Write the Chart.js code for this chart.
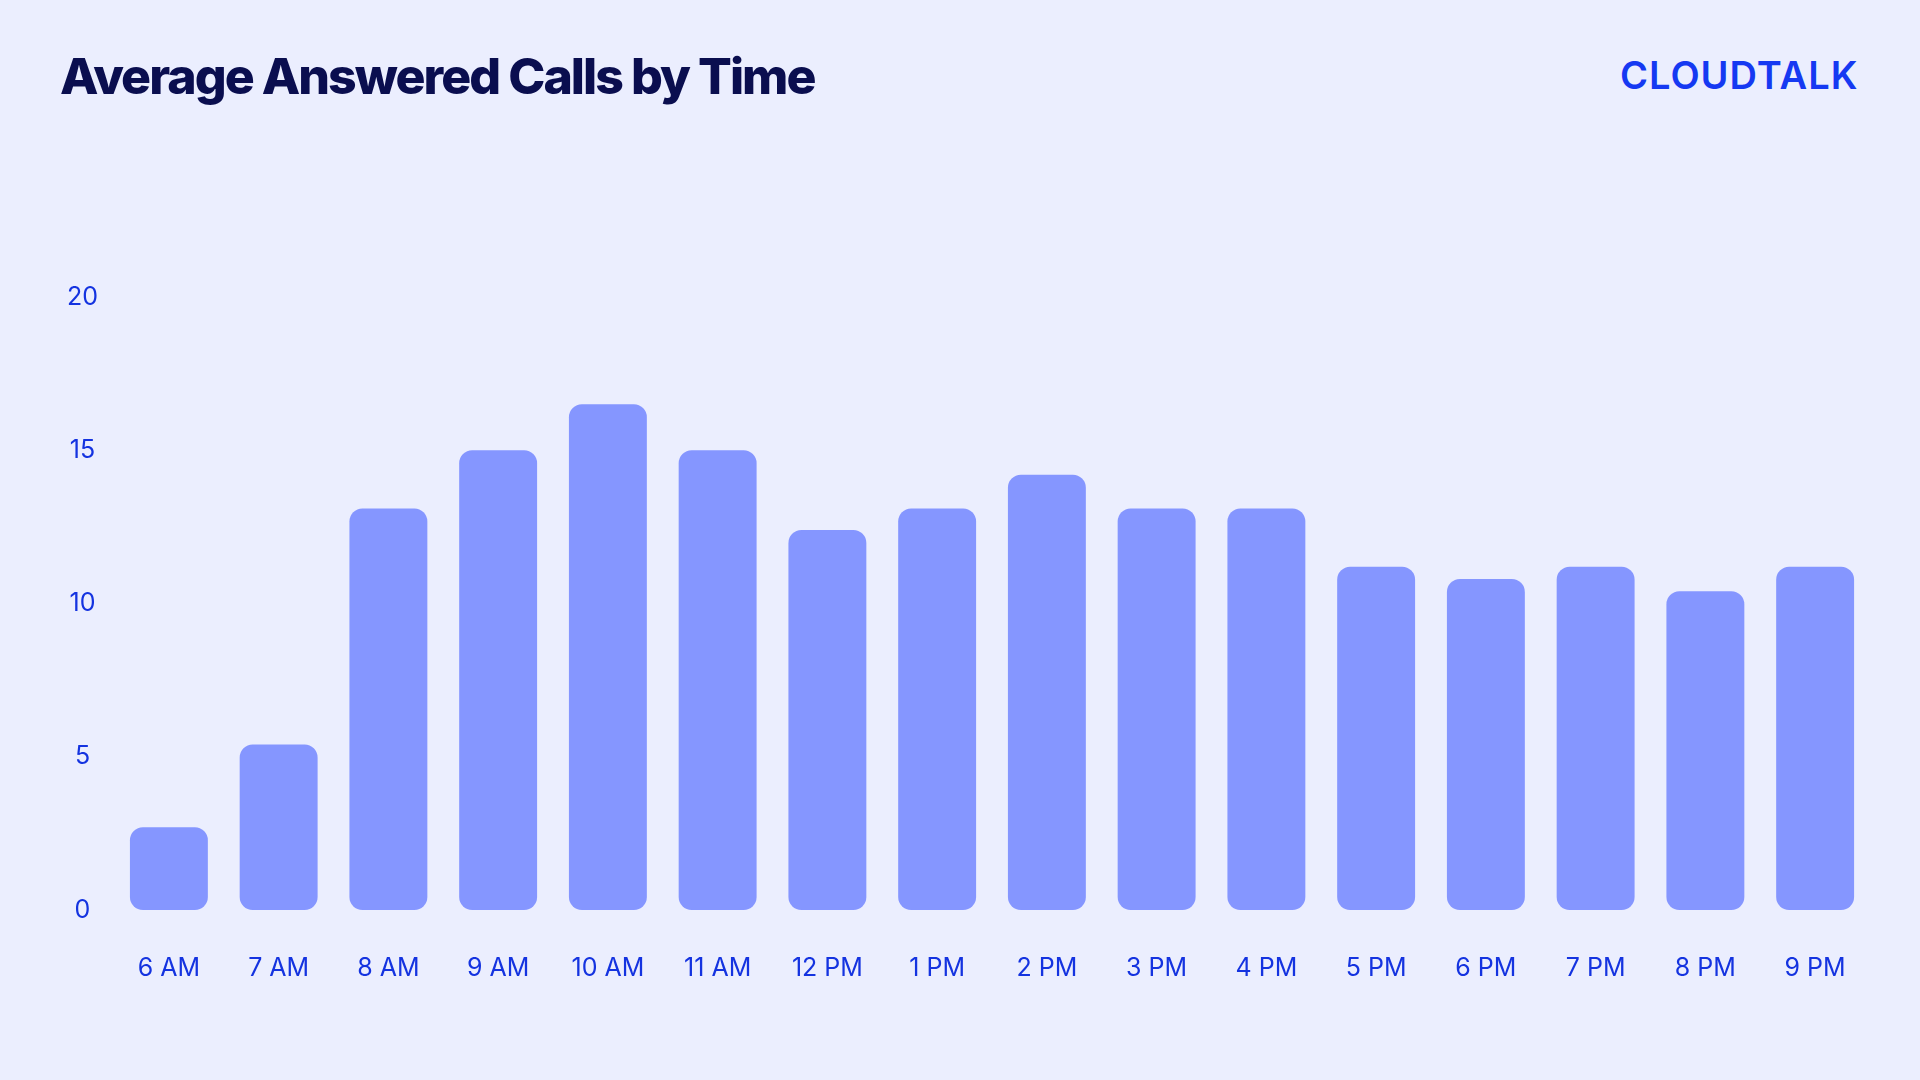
<!DOCTYPE html>
<html>
<head>
<meta charset="utf-8">
<script src="https://cdn.jsdelivr.net/npm/chart.js@4"></script>
<style>
  html, body { margin: 0; padding: 0; }
  body {
    width: 1920px; height: 1080px; overflow: hidden;
    background: #ebeefe; position: relative;
    font-family: Inter, "Noto Sans", sans-serif;
  }
  #title {
    position: absolute; left: 60px; top: 46px;
    font-size: 50px; font-weight: 800; letter-spacing: -1.95px;
    color: #0a0e4f; white-space: nowrap;
  }
  #logo {
    position: absolute; left: 1620px; top: 52px;
    font-size: 38px; font-weight: 600; letter-spacing: 1px;
    color: #1539f2; white-space: nowrap;
  }
  #wrap { position: absolute; left: 0; top: 0; width: 1920px; height: 1080px; }
</style>
</head>
<body>
<div id="title">Average Answered Calls by Time</div>
<div id="logo">CLOUDTALK</div>
<div id="wrap"><canvas id="chart"></canvas></div>
<script>
const hours = ['6 AM', '7 AM', '8 AM', '9 AM', '10 AM', '11 AM', '12 PM', '1 PM',
               '2 PM', '3 PM', '4 PM', '5 PM', '6 PM', '7 PM', '8 PM', '9 PM'];
const answeredCalls = [2.7, 5.4, 13.1, 15.0, 16.5, 15.0, 12.4, 13.1,
                       14.2, 13.1, 13.1, 11.2, 10.8, 11.2, 10.4, 11.2];
const yTicks = [0, 5, 10, 15, 20];

const tickColor = '#1433e0';

new Chart(document.getElementById('chart'), {
    type: 'bar',
    data: {
        labels: hours,
        datasets: [{
            data: answeredCalls,
            backgroundColor: '#8596ff',
            borderRadius: 13,
            borderSkipped: false,
            categoryPercentage: 1,
            barPercentage: 0.71
        }]
    },
    options: {
        responsive: true,
        maintainAspectRatio: false,
        animation: false,
        layout: { padding: { top: 297, left: 59, right: 50, bottom: 62 } },
        plugins: { legend: { display: false }, tooltip: { enabled: false } },
        scales: {
            x: {
                grid: { display: false },
                border: { display: false },
                ticks: {
                    color: tickColor, padding: 35,
                    font: { family: 'Inter', size: 25, weight: 400 },
                    maxRotation: 0
                }
            },
            y: {
                min: 0, max: 20,
                grid: { display: false },
                border: { display: false },
                afterBuildTicks: axis => { axis.ticks = yTicks.map(v => ({ value: v })); },
                ticks: {
                    color: tickColor, padding: 8, crossAlign: 'center',
                    font: { family: 'Inter', size: 25, weight: 400 }
                }
            }
        }
    }
});
</script>
</body>
</html>
